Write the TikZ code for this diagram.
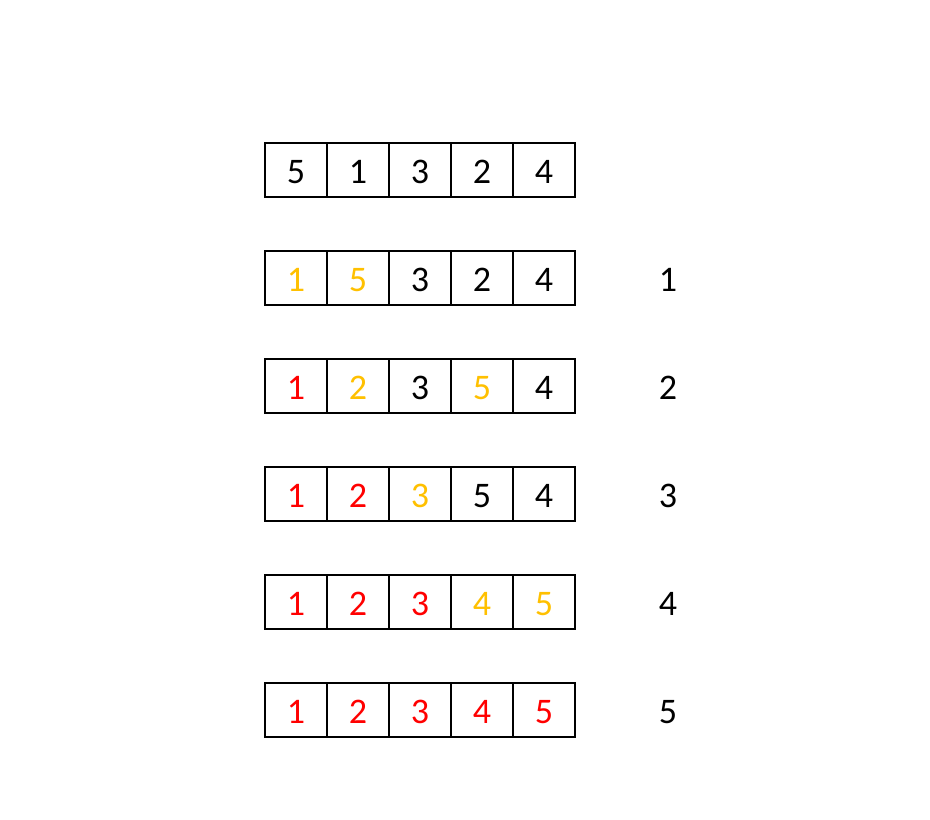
\documentclass[tikz,border=0pt]{standalone}
\usepackage{fontspec}
\setmainfont{Carlito}
\definecolor{og}{HTML}{FFC000}
\definecolor{rd}{HTML}{FF0000}
\tikzset{
  cell/.style={draw=black, line width=2pt, minimum width=62pt, minimum height=54pt, inner sep=0pt, text height=27pt, text depth=0pt, font=\fontsize{36}{40}\selectfont},
  lab/.style={inner sep=0pt, text height=27pt, text depth=0pt, font=\fontsize{36}{40}\selectfont},
}
\begin{document}
\begin{tikzpicture}[x=1pt,y=1pt]
\useasboundingbox (0,0) rectangle (930,820);
\foreach \r/\a/\b/\c/\d/\e in {
  0/5/1/3/2/4,
  1/\textcolor{og}{1}/\textcolor{og}{5}/3/2/4,
  2/\textcolor{rd}{1}/\textcolor{og}{2}/3/\textcolor{og}{5}/4,
  3/\textcolor{rd}{1}/\textcolor{rd}{2}/\textcolor{og}{3}/5/4,
  4/\textcolor{rd}{1}/\textcolor{rd}{2}/\textcolor{rd}{3}/\textcolor{og}{4}/\textcolor{og}{5},
  5/\textcolor{rd}{1}/\textcolor{rd}{2}/\textcolor{rd}{3}/\textcolor{rd}{4}/\textcolor{rd}{5}}{
  \pgfmathsetmacro{\yy}{820-170-108*\r}
  \node[cell] (c\r a) at (296,\yy) {\a};
  \node[cell] (c\r b) at (358,\yy) {\b};
  \node[cell] (c\r c) at (420,\yy) {\c};
  \node[cell] (c\r d) at (482,\yy) {\d};
  \node[cell] (c\r e) at (544,\yy) {\e};
}
\foreach \r in {1,...,5}{
  \pgfmathsetmacro{\yy}{820-170-108*\r}
  \node[lab] (l\r) at (668,\yy) {\r};
}
\end{tikzpicture}
\end{document}
